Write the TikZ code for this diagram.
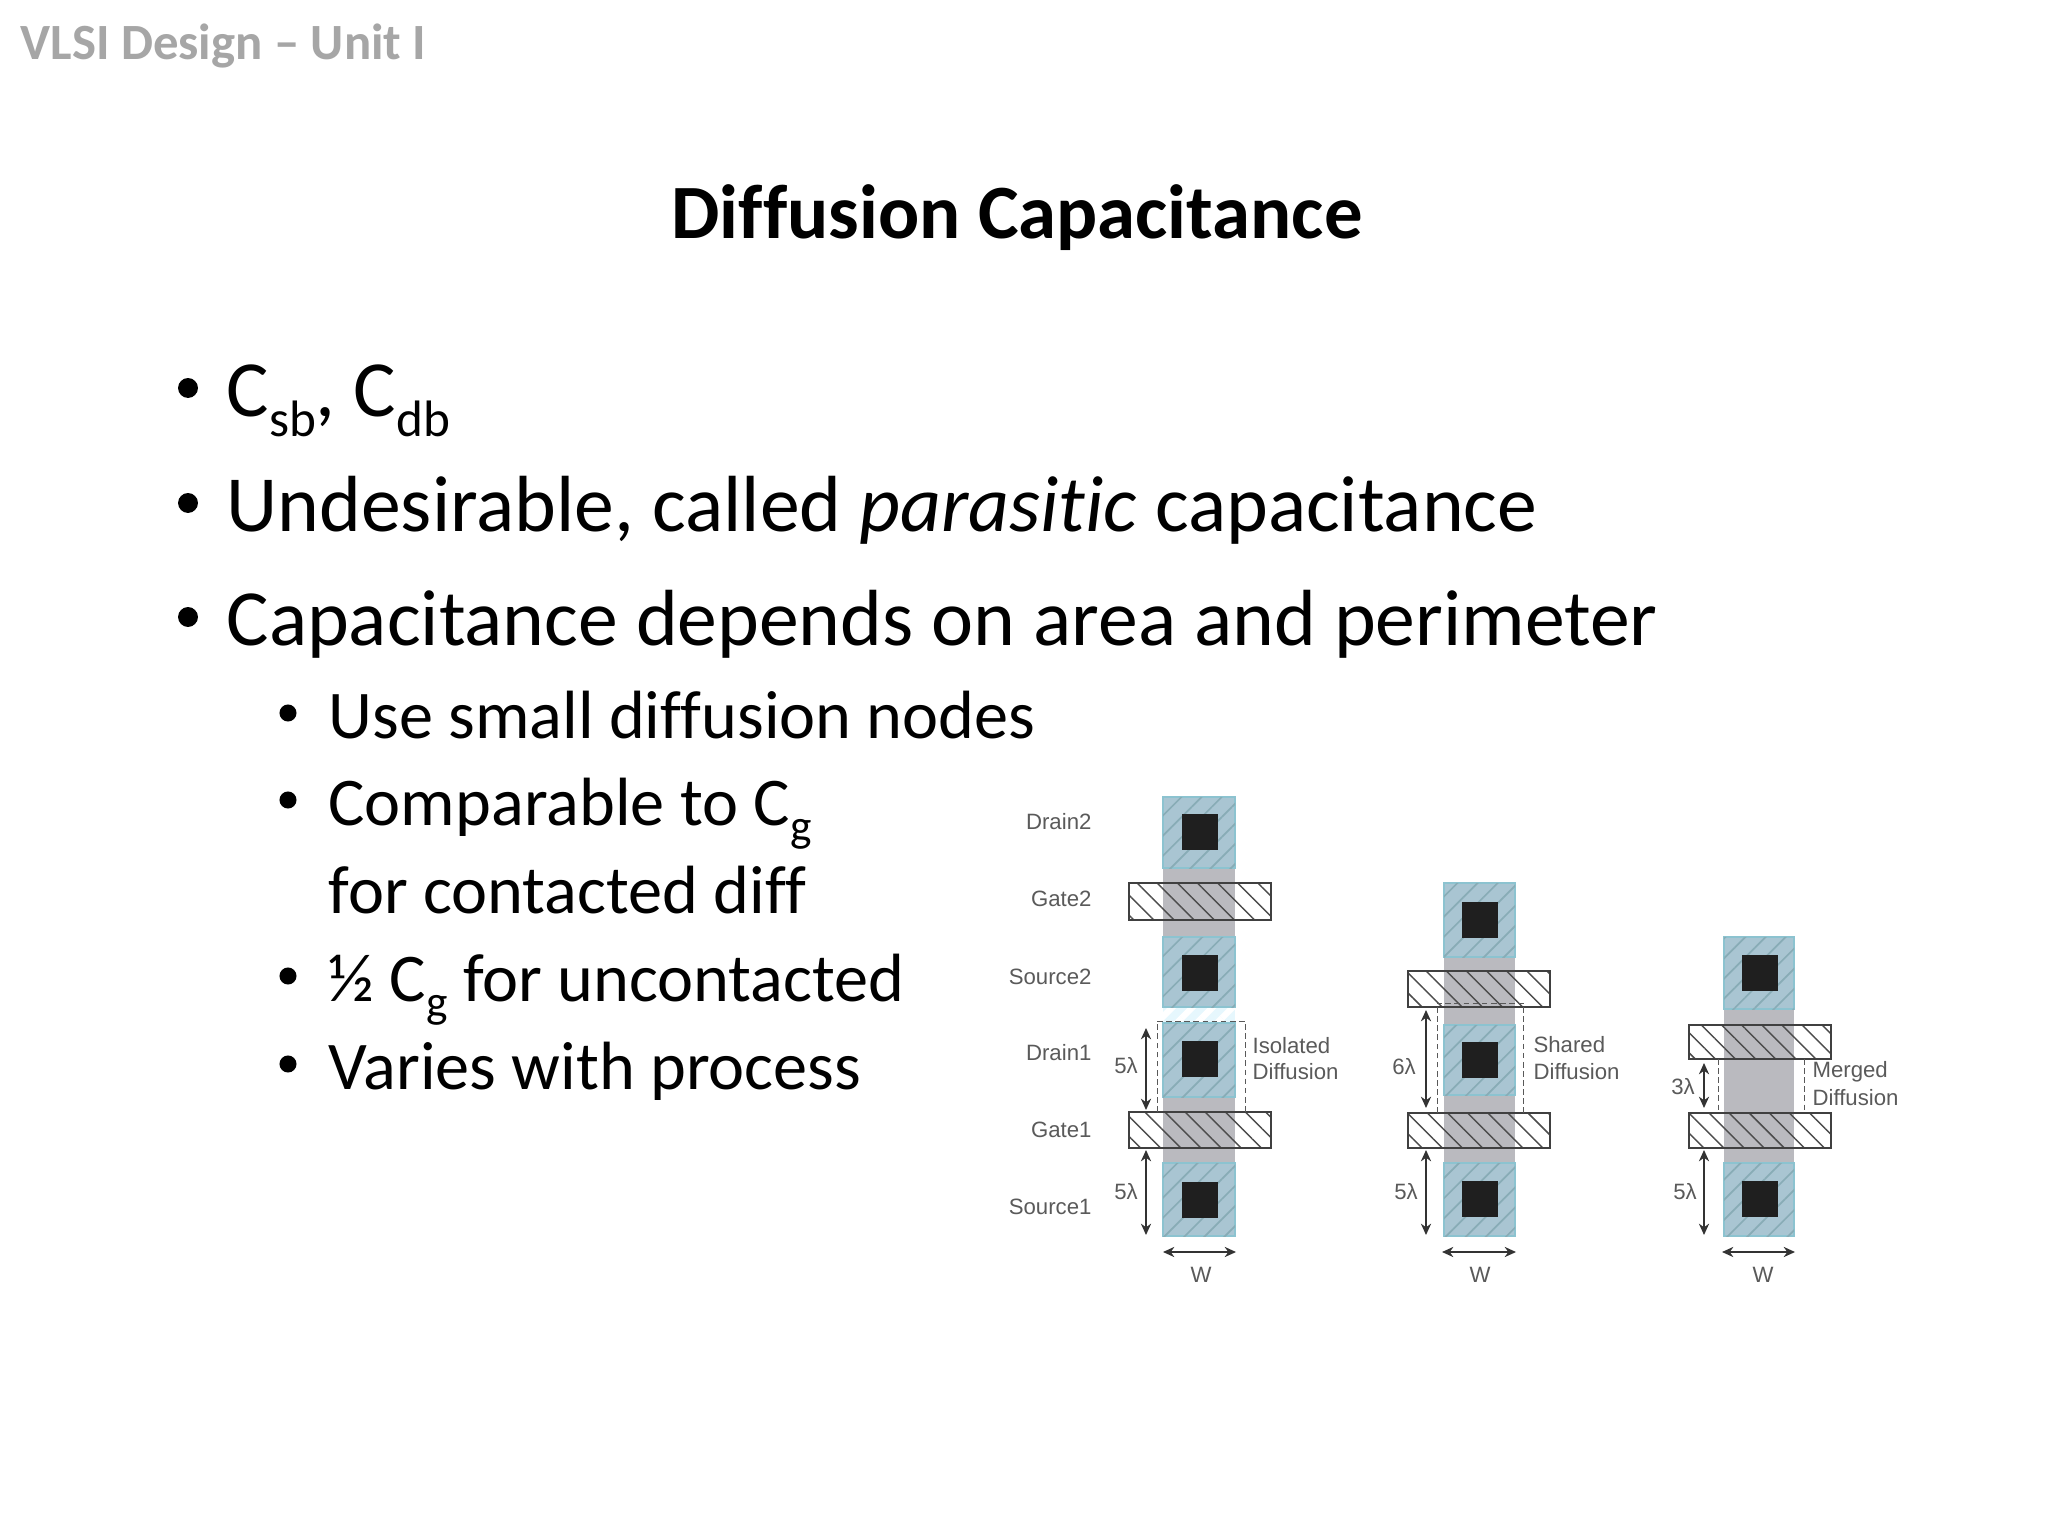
\documentclass[tikz,border=0pt]{standalone}
\usepackage{fontspec}
\setmainfont[Ligatures={TeX,NoCommon}]{Carlito}
\newfontfamily\figfont{Liberation Sans}
\usetikzlibrary{patterns.meta,arrows.meta}
\definecolor{diffgray}{HTML}{BABABF}
\definecolor{diffblue}{HTML}{A9C5D2}
\definecolor{hatchblue}{HTML}{88ACB6}
\definecolor{edgeblue}{HTML}{8CC3D0}
\definecolor{figtext}{HTML}{5A5A5A}
\definecolor{headgray}{HTML}{A6A6A6}
\newcommand{\subtxt}[2]{\raisebox{-0.24em}{\fontsize{#1}{#1}\selectfont #2}}
\tikzset{
  slidetext/.style={anchor=base west,inner sep=0pt,font=\fontsize{28}{28}\selectfont},
  subtext/.style={anchor=base west,inner sep=0pt,font=\fontsize{24}{24}\selectfont},
  slidedot/.style={circle,fill=black,inner sep=0pt,minimum size=7pt},
  subdot/.style={circle,fill=black,inner sep=0pt,minimum size=6pt},
  figlabel/.style={inner sep=0pt,text=figtext,font=\figfont\fontsize{7.8}{7.8}\selectfont},
  gatebar/.style={draw=black!75,line width=0.45pt,pattern={Lines[angle=-45,distance=5pt,line width=0.5pt]},pattern color=black!70},
  diffbox/.style={draw=edgeblue,line width=0.4pt,fill=diffblue},
  diffhatch/.style={pattern={Lines[angle=45,distance=5pt,line width=0.6pt]},pattern color=hatchblue},
  dimline/.style={{Stealth[length=4pt,width=3.6pt]}-{Stealth[length=4pt,width=3.6pt]},line width=0.45pt,black!80},
  dashline/.style={dashed,dash pattern=on 2pt off 1.2pt,line width=0.35pt,black!65}
}
\begin{document}
\begin{tikzpicture}[x=0.3515625pt,y=-0.3515625pt]
\useasboundingbox (0,0) rectangle (2048,1536);
\fill[white] (0,0) rectangle (2048,1536);

\node[anchor=base west,inner sep=0pt,text=headgray,font=\fontsize{17.85}{18}\selectfont\bfseries] (header) at (20,60) {VLSI Design – Unit I};
\node[anchor=base,inner sep=0pt,font=\fontsize{27}{27}\selectfont\bfseries] (title) at (1017,239) {Diffusion Capacitance};

% bullets
\foreach \n/\y in {1/388,2/503,3/617}
  \node[slidedot] (dot\n) at (188,\y) {};
\foreach \n/\y in {4/713,5/800,6/976,7/1064}
  \node[subdot] (dot\n) at (288,\y) {};

\node[slidetext] (line1) at (226,417) {C\subtxt{18}{sb}, C\subtxt{18}{db}};
\node[slidetext] (line2) at (226,532) {Undesirable, called \textit{parasitic} capacitance};
\node[slidetext] (line3) at (226,645) {Capacitance depends on area and perimeter};
\node[subtext] (line4) at (328,738) {Use small diffusion nodes};
\node[subtext] (line5) at (328,825) {Comparable to C\subtxt{16}{g}};
\node[subtext] (line6) at (328,913) {for contacted diff};
\node[subtext] (line7) at (328,1001) {½ C\subtxt{16}{g} for uncontacted};
\node[subtext] (line8) at (328,1089) {Varies with process};

% diffusion columns
\foreach \xa/\xb/\ya/\yb in {1163/1235/797/1236,1444/1515/883/1236,1724/1794/937/1236}
  \fill[diffgray] (\xa,\ya) rectangle (\xb,\yb);
\fill[cyan!10] (1163,1007) rectangle (1235,1023);
\fill[pattern={Lines[angle=45,distance=5pt,line width=2.2pt]},pattern color=white] (1163,1007) rectangle (1235,1023);

\foreach \xa/\xb/\ya/\yb in {1163/1235/797/868,1163/1235/937/1007,1163/1235/1023/1097,1163/1235/1163/1236,
    1444/1515/883/957,1444/1515/1025/1095,1444/1515/1163/1236,
    1724/1794/937/1009,1724/1794/1163/1236}{
  \draw[diffbox] (\xa,\ya) rectangle (\xb,\yb);
  \fill[diffhatch] (\xa,\ya) rectangle (\xb,\yb);
}

% contacts
\foreach \x/\y in {1200/832,1200/973,1200/1059,1200/1200,1480/920,1480/1060,1480/1199,1760/973,1760/1199}
  \fill[black!88] (\x-18,\y-18) rectangle (\x+18,\y+18);

% gates
\foreach \xa/\xb/\ya/\yb/\ca/\cb in {1129/1271/883/920/1163/1235,1129/1271/1112/1148/1163/1235,
    1408/1550/971/1007/1444/1515,1408/1550/1113/1148/1444/1515,
    1689/1831/1025/1059/1724/1794,1689/1831/1113/1148/1724/1794}{
  \fill[white] (\xa,\ya) rectangle (\xb,\yb);
  \fill[diffgray] (\ca,\ya) rectangle (\cb,\yb);
  \draw[gatebar] (\xa,\ya) rectangle (\xb,\yb);
}

% dashed outlines
\draw[dashline] (1157,1112) -- (1157,1021) -- (1245,1021) -- (1245,1112);
\draw[dashline] (1437,1113) -- (1437,1003) -- (1523,1003) -- (1523,1113);
\draw[dashline] (1718,1059) -- (1718,1113);
\draw[dashline] (1804,1059) -- (1804,1113);

% dimension arrows
\foreach \n/\xa/\ya/\xb/\yb in {a/1146/1028/1146/1110,b/1146/1150/1146/1235,c/1163/1252/1236/1252,
    d/1426/1010/1426/1108,e/1426/1150/1426/1235,f/1442/1252/1516/1252,
    g/1704/1063/1704/1108,h/1704/1150/1704/1235,i/1722/1252/1795/1252}{
  \coordinate (\n1) at (\xa,\ya);
  \coordinate (\n2) at (\xb,\yb);
  \draw[dimline] (\n1) -- (\n2);
}

% labels
\foreach \n/\t/\y in {dr2/Drain2/822,gt2/Gate2/899,sr2/Source2/977,dr1/Drain1/1053,gt1/Gate1/1130,sr1/Source1/1207}
  \node[figlabel,anchor=east] (\n) at (1092,\y) {\t};
\foreach \n/\t/\x/\y in {la/5λ/1126/1066,lb/5λ/1126/1192,lc/6λ/1404/1067,ld/5λ/1406/1192,le/3λ/1683/1087,lf/5λ/1685/1192,
    wa/W/1201/1275,wb/W/1480/1275,wc/W/1763/1275}
  \node[figlabel] (\n) at (\x,\y) {\t};
\foreach \n/\t/\x/\y in {iso/Isolated/1252/1046,isb/Diffusion/1252/1072,sha/Shared/1533/1045,shb/Diffusion/1533/1072,mer/Merged/1812/1072,meb/Diffusion/1812/1098}
  \node[figlabel,anchor=west] (\n) at (\x,\y) {\t};
\end{tikzpicture}
\end{document}
